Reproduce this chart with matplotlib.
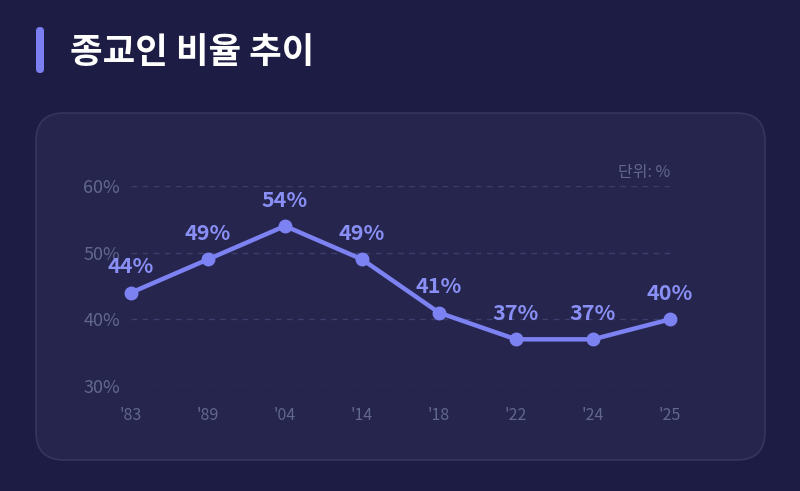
import matplotlib.pyplot as plt
from matplotlib.patches import FancyBboxPatch

plt.rcParams['font.family'] = ['Noto Sans CJK KR', 'DejaVu Sans']

years = ["'83", "'89", "'04", "'14", "'18", "'22", "'24", "'25"]
values = [44, 49, 54, 49, 41, 37, 37, 40]
y_ticks = [30, 40, 50, 60]
title = '종교인 비율 추이'
unit_text = '단위: %'

BG = '#1c1c45'
CARD = '#25254e'
LINE = '#7d82f2'
LABEL = '#8a8ff6'
MUTED = '#62688c'

W, H = 800, 491
fig = plt.figure(figsize=(W / 100, H / 100), dpi=100, facecolor=BG)

# background layer in pixel coordinates
bg = fig.add_axes([0, 0, 1, 1])
bg.set_xlim(0, W)
bg.set_ylim(H, 0)
bg.axis('off')
bg.add_patch(FancyBboxPatch((36, 113), 729, 347, boxstyle='round,pad=0,rounding_size=28',
                            facecolor=CARD, edgecolor='#35355f', linewidth=1.2))
bg.add_patch(FancyBboxPatch((36, 27), 8, 46, boxstyle='round,pad=0,rounding_size=4',
                            facecolor='#7b7ff0', edgecolor='none'))
bg.text(70, 52, title, color='white', fontsize=25.5, fontweight='bold', va='center', ha='left')

# chart axes: x 131..670 px, y 186..386 px
ax = fig.add_axes([131 / W, (H - 386) / H, (670 - 131) / W, 200 / H])
ax.set_facecolor('none')
x = list(range(len(years)))
ax.set_xlim(0, len(years) - 1)
ax.set_ylim(30, 60)

for yv in y_ticks:
    ax.axhline(yv, color='#3c3f6d', linewidth=1, dashes=(4, 4), zorder=1)

ax.plot(x, values, color=LINE, linewidth=3.2, marker='o', markersize=9,
        clip_on=False, zorder=3, solid_joinstyle='round')
for xi, v in zip(x, values):
    ax.annotate(f'{v}%', (xi, v), xytext=(0, 18.5), textcoords='offset points',
                ha='center', va='center', color=LABEL, fontsize=15.5, fontweight='bold',
                annotation_clip=False, zorder=4)

ax.set_xticks(x)
ax.set_xticklabels(years)
ax.set_yticks(y_ticks)
ax.set_yticklabels([f'{t}%' for t in y_ticks])
ax.tick_params(axis='x', length=0, pad=15, labelsize=11.5, labelcolor=MUTED)
ax.tick_params(axis='y', length=0, pad=8, labelsize=13, labelcolor=MUTED)
for s in ax.spines.values():
    s.set_visible(False)

ax.text(1.0, 60 + 2.1, unit_text, transform=ax.get_yaxis_transform(), ha='right', va='center',
        color=MUTED, fontsize=11.5)

fig.savefig('out.png', dpi=100, facecolor=BG)
